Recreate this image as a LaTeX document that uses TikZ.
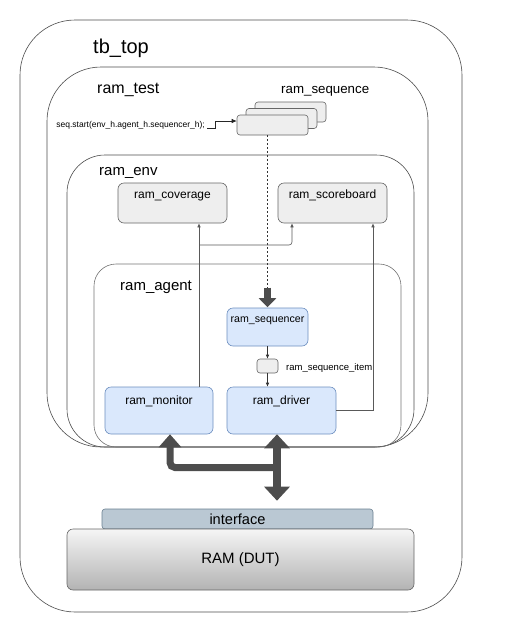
\documentclass[tikz,border=0pt]{standalone}
\usepackage{fontspec}
\setmainfont{Liberation Sans}
\usetikzlibrary{arrows.meta}
\definecolor{bluefill}{HTML}{DAE8FC}
\definecolor{bluedraw}{HTML}{6C8EBF}
\definecolor{grayfill}{HTML}{EEEEEE}
\definecolor{graydraw}{HTML}{666666}
\definecolor{ifcfill}{HTML}{BAC8D3}
\definecolor{ifcdraw}{HTML}{6A7F90}
\definecolor{fatcol}{HTML}{4D4D4D}
\definecolor{ramtop}{HTML}{F5F5F5}
\definecolor{rambot}{HTML}{B3B3B3}
\newcommand{\fs}[1]{\fontsize{#1}{#1}\selectfont}
\tikzset{
  cont/.style={draw=black!70, line width=0.6pt, inner sep=0pt},
  contlbl/.style={anchor=base west, inner sep=0pt},
  graybox/.style={draw=graydraw, fill=grayfill, line width=0.6pt, rounded corners=6pt, inner sep=0pt},
  bluebox/.style={draw=bluedraw, fill=bluefill, line width=0.6pt, rounded corners=6pt, inner sep=0pt},
  stackbox/.style={draw=graydraw, fill=grayfill, line width=0.6pt, rounded corners=3pt, inner sep=0pt, minimum width=71pt, minimum height=20pt},
  boxlbl/.style={anchor=base, inner sep=0pt},
  arr/.style={draw=black!65, line width=0.6pt, -{Latex[length=4pt,width=3.5pt]}},
  fatone/.style={draw=fatcol, line width=7pt, -{Triangle[width=22pt,length=13pt]}},
  fattwo/.style={draw=fatcol, line width=8.5pt, {Triangle[width=25pt,length=14pt]}-{Triangle[width=25pt,length=14pt]}},
  fatseq/.style={draw=fatcol, line width=7pt, -{Triangle[width=17pt,length=9pt]}},
}
\begin{document}
\begin{tikzpicture}[x=1pt,y=-1pt]
\useasboundingbox (0,0) rectangle (504,640);
% containers
\node[cont, rounded corners=55pt, minimum width=442pt, minimum height=592pt] (tb) at (241,316) {};
\node[cont, rounded corners=54pt, minimum width=381pt, minimum height=380pt] (test) at (237.5,257) {};
\node[cont, rounded corners=38pt, minimum width=347pt, minimum height=292pt] (env) at (240.5,301) {};
\node[cont, draw=black!55, rounded corners=22pt, minimum width=307pt, minimum height=183pt] (agent) at (247.5,355.5) {};
\node[contlbl, font=\fs{20}] (tbl) at (93,53) {tb\_top};
\node[contlbl, font=\fs{16}] (testl) at (97,93) {ram\_test};
\node[contlbl, font=\fs{15}] (envl) at (99,175) {ram\_env};
\node[contlbl, font=\fs{15}] (agentl) at (120,290) {ram\_agent};
% sequence stack
\node[stackbox] (back) at (290.5,112) {};
\node[stackbox] (mid) at (281.5,118.5) {};
\node[stackbox] (front) at (272.5,125) {};
\node[contlbl, font=\fs{13.3}] (seql) at (281,93) {ram\_sequence};
\node[anchor=east, inner sep=0pt, font=\fs{8.5}] (st) at (205,125) {seq.start(env\_h.agent\_h.sequencer\_h);};
% boxes
\node[graybox, minimum width=109pt, minimum height=40pt,
  label={[boxlbl, font=\fs{12}, yshift=-16pt]north:ram\_coverage}] (cov) at (172.5,203) {};
\node[graybox, minimum width=109pt, minimum height=40pt,
  label={[boxlbl, font=\fs{12}, yshift=-16pt]north:ram\_scoreboard}] (sb) at (332.5,203) {};
\node[bluebox, minimum width=81pt, minimum height=38pt,
  label={[boxlbl, font=\fs{10.6}, yshift=-15pt]north:ram\_sequencer}] (seq) at (267.5,327) {};
\node[graybox, rounded corners=3pt, minimum width=21pt, minimum height=14pt] (item) at (267.5,366) {};
\node[contlbl, font=\fs{9.5}] (iteml) at (286,370) {ram\_sequence\_item};
\node[bluebox, minimum width=108pt, minimum height=47pt,
  label={[boxlbl, font=\fs{12}, yshift=-18pt]north:ram\_monitor}] (mon) at (159,410.5) {};
\node[bluebox, minimum width=109pt, minimum height=47pt,
  label={[boxlbl, font=\fs{12}, yshift=-18pt]north:ram\_driver}] (drv) at (281.5,410.5) {};
\node[draw=ifcdraw, fill=ifcfill, line width=0.6pt, rounded corners=3pt, inner sep=0pt,
  minimum width=271pt, minimum height=20pt, font=\fs{14.6}] (ifc) at (237.5,519) {interface};
\node[draw=graydraw, top color=ramtop, bottom color=rambot, line width=0.6pt, rounded corners=6pt, inner sep=0pt,
  minimum width=347pt, minimum height=61pt, font=\fs{15}] (ram) at (240.5,559.5) {RAM (DUT)};
% connectors
\coordinate (sst) at (207,128);
\draw[arr, -{Latex[length=5pt,width=4.5pt]}, draw=black!85] (sst) -- (215,128) |- ([yshift=4pt]front.west);
\coordinate (fattop) at ([yshift=20pt]seq.north);
\draw[black!80, line width=0.6pt, dash pattern=on 2pt off 2pt] (front.south -| seq.north) -- (fattop);
\draw[fatseq] (fattop) -- ([yshift=0.5pt]seq.north);
\draw[arr, draw=black!80] (seq.south) -- (item.north);
\draw[arr, draw=black!80] (item.south) -- (item.south |- drv.north);
\coordinate (monup) at ([xshift=40pt]mon.north);
\coordinate (br) at (199,245);
\draw[arr] (monup) -- (monup |- cov.south);
\draw[arr, rounded corners=3pt] (br) -| ([xshift=-40.5pt]sb.south);
\draw[arr] (drv.east) -| ([xshift=40.5pt]sb.south);
\coordinate (dtop) at ([xshift=-4.5pt]drv.south);
\coordinate (jn) at (277,467.5);
\draw[fatone, rounded corners=5pt] (jn) -| ([xshift=11pt]mon.south);
\draw[fattwo, shorten >=8pt] (dtop) -- (dtop |- ifc.north);
\end{tikzpicture}
\end{document}
